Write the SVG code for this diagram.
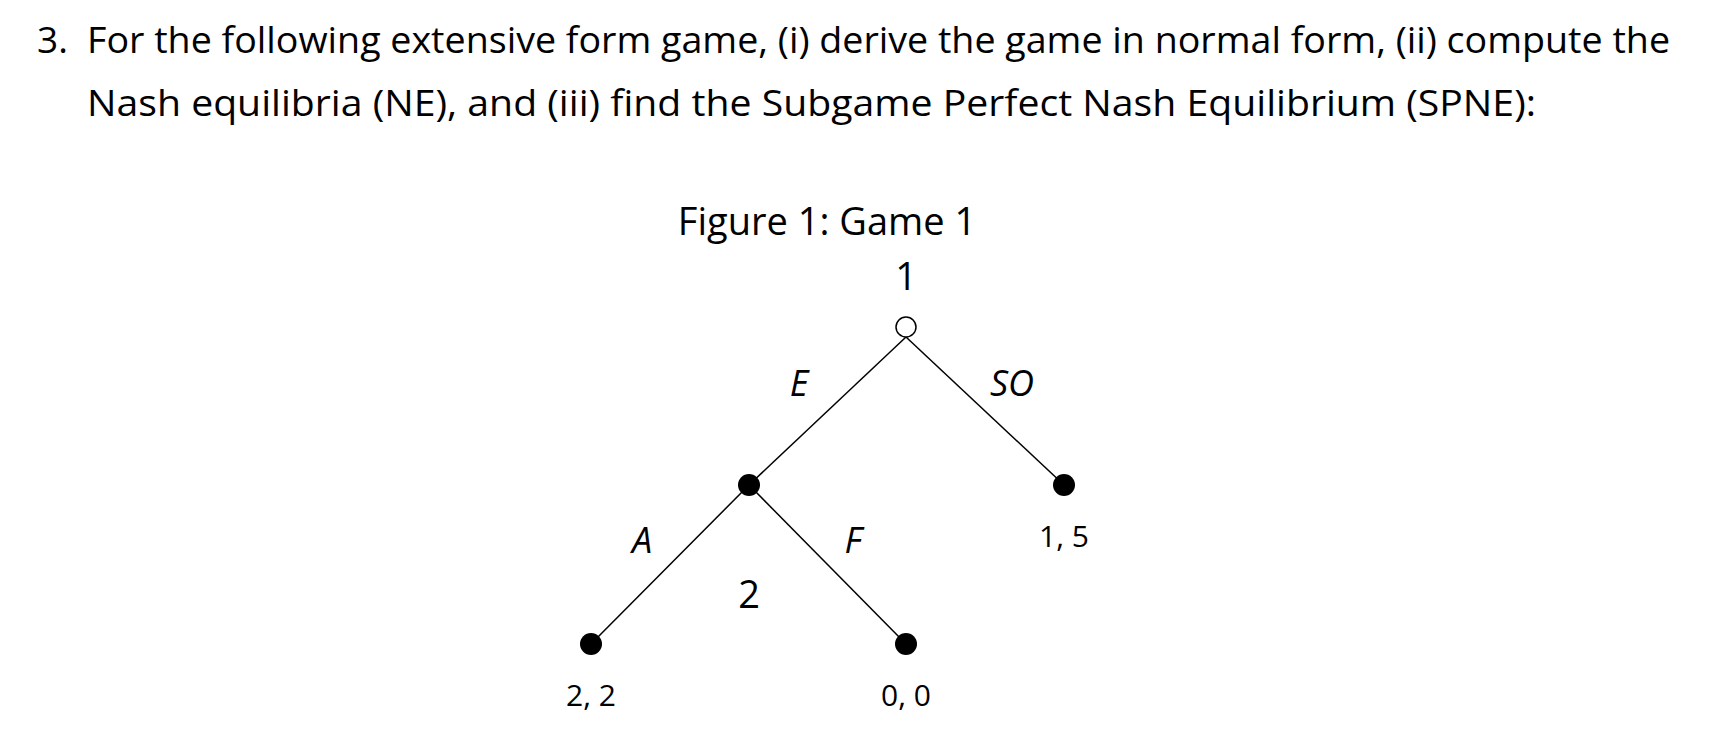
<svg xmlns="http://www.w3.org/2000/svg" width="1720" height="744" viewBox="0 0 1720 744">
<style>
text{font-family:"Open Sans","DejaVu Sans",sans-serif;fill:#000}
.h{font-size:37px}
.t{font-size:38px;text-anchor:middle}
.l{font-size:36px;text-anchor:middle;font-style:italic}
.p{font-size:30px;text-anchor:middle}
.e{stroke:#000;stroke-width:1.5;fill:none}
</style>
<rect width="1720" height="744" fill="#fff"/>
<text class="h" x="37" y="53">3.</text>
<text class="h" x="87" y="53" textLength="1583" lengthAdjust="spacingAndGlyphs">For the following extensive form game, (i) derive the game in normal form, (ii) compute the</text>
<text class="h" x="87" y="116" textLength="1449" lengthAdjust="spacingAndGlyphs">Nash equilibria (NE), and (iii) find the Subgame Perfect Nash Equilibrium (SPNE):</text>
<text class="t" x="827" y="235">Figure 1: Game 1</text>
<g id="edges">
<line class="e" x1="906" y1="337" x2="749" y2="485"/>
<line class="e" x1="906" y1="337" x2="1064" y2="485"/>
<line class="e" x1="749" y1="485" x2="591" y2="644"/>
<line class="e" x1="749" y1="485" x2="906" y2="644"/>
</g>
<g id="root"><circle cx="906" cy="327" r="10" fill="#fff" stroke="#000" stroke-width="1.5"/><text class="t" x="906" y="290">1</text></g>
<g id="n2"><circle cx="749" cy="485" r="11"/><text class="t" x="749" y="608">2</text></g>
<g id="so"><circle cx="1064" cy="485" r="11"/><text class="p" x="1064" y="547">1, 5</text></g>
<g id="a"><circle cx="591" cy="644" r="11"/><text class="p" x="591" y="706">2, 2</text></g>
<g id="f"><circle cx="906" cy="644" r="11"/><text class="p" x="906" y="706">0, 0</text></g>
<g id="labels">
<text class="l" x="799" y="396">E</text>
<text class="l" x="1012" y="396">SO</text>
<text class="l" x="642" y="553">A</text>
<text class="l" x="853" y="553">F</text>
</g>
</svg>
